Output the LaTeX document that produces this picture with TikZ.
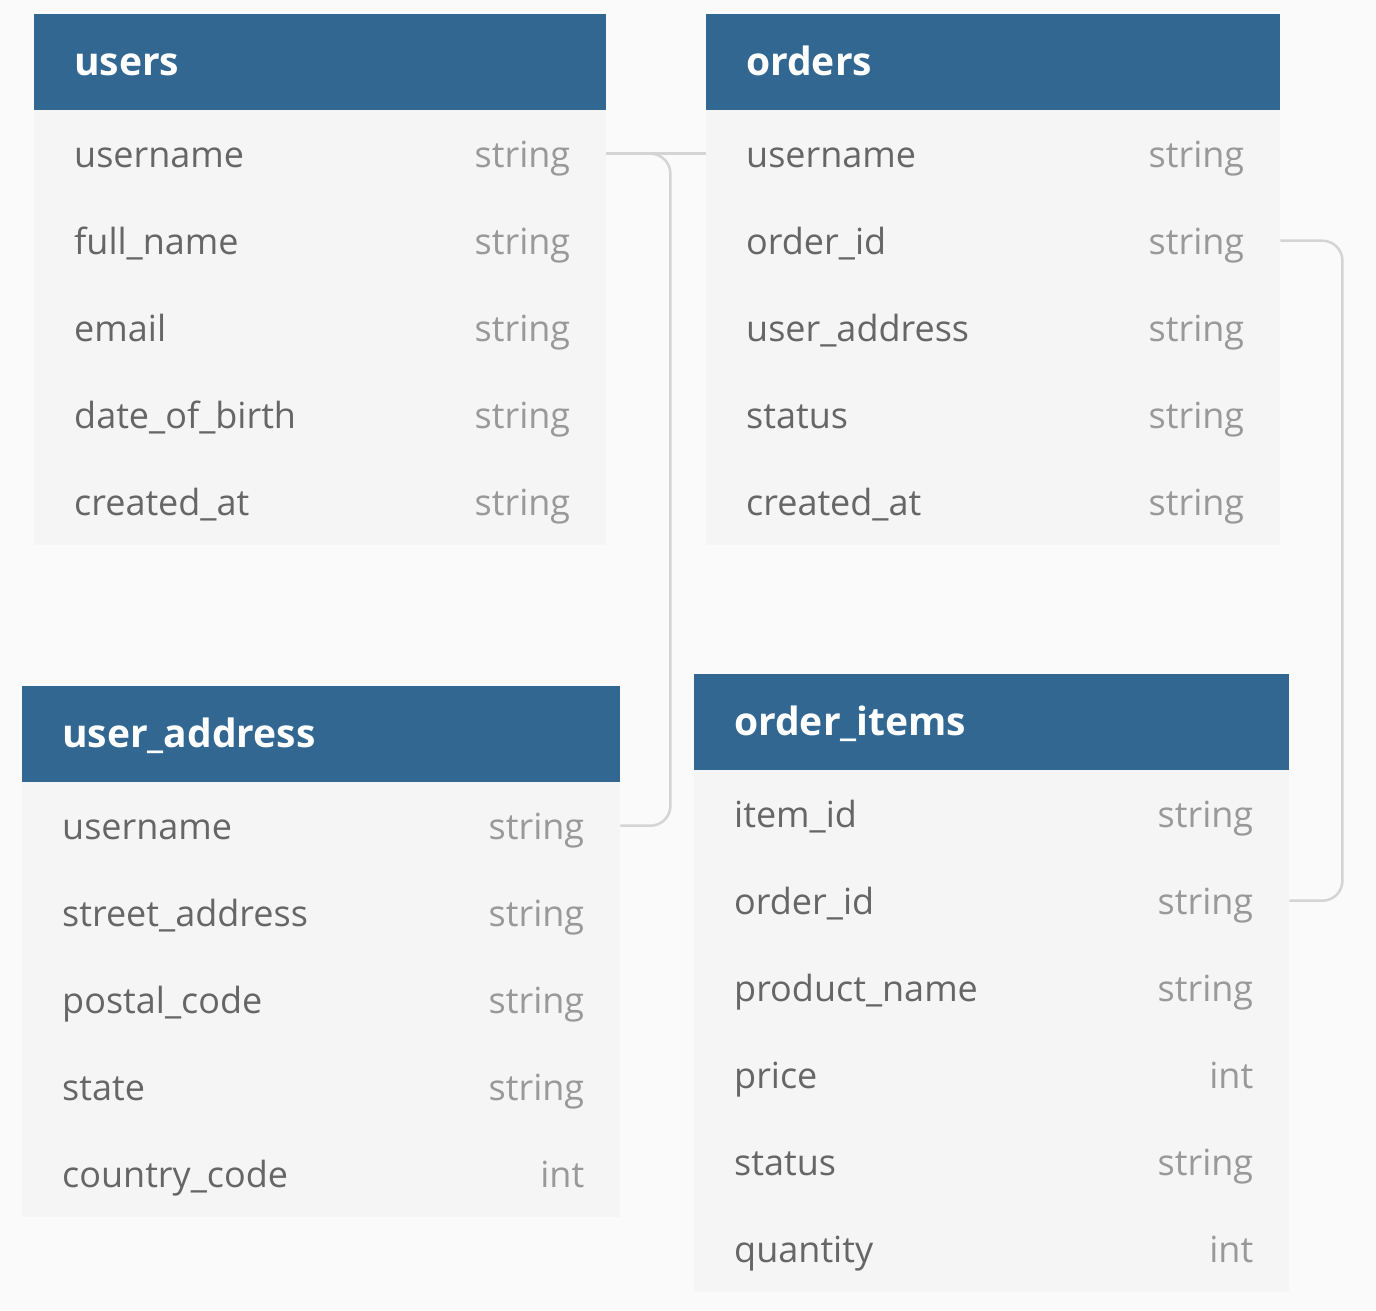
\documentclass[tikz,border=0pt]{standalone}
\usepackage{fontspec}
\setmainfont{Open Sans}
\definecolor{hdrblue}{RGB}{50,103,146}
\definecolor{bodybg}{RGB}{245,245,245}
\definecolor{pagebg}{RGB}{250,250,250}
\definecolor{fieldcol}{RGB}{102,102,102}
\definecolor{typecol}{RGB}{153,153,153}
\definecolor{linkcol}{RGB}{212,212,212}
\tikzset{
  hdr/.style={fill=hdrblue, draw=none, minimum height=96pt, inner sep=0pt},
  hdrtext/.style={text=white, font=\fontsize{39}{46}\selectfont\bfseries, inner sep=0pt},
  rowbox/.style={fill=bodybg, draw=none, minimum height=87pt, inner sep=0pt},
  fieldtext/.style={text=fieldcol, font=\fontsize{36}{43}\selectfont, inner sep=0pt},
  typetext/.style={text=typecol, font=\fontsize{36}{43}\selectfont, inner sep=0pt},
  link/.style={draw=linkcol, line width=2.5pt, rounded corners=20pt}
}
\newcommand{\mktable}[6]{%
  \node[hdr, minimum width=#4, anchor=north west] (#1) at (#2,#3) {};
  \node[hdrtext, anchor=mid west] (#1-title) at ([xshift=40pt,yshift=-11pt]#1.west) {#5};
  \foreach \f/\t [count=\i] in {#6} {
    \node[rowbox, minimum width=#4, anchor=north west] (#1-\i) at (#2,{#3+96+87*(\i-1)}) {};
    \node[fieldtext, anchor=mid west] (#1-\i-f) at ([xshift=40pt,yshift=-11.5pt]#1-\i.west) {\f};
    \node[typetext, anchor=mid east] (#1-\i-t) at ([xshift=-36pt,yshift=-11.5pt]#1-\i.east) {\t};
  }%
}
\begin{document}
\begin{tikzpicture}[x=1pt,y=-1pt]
\fill[pagebg] (0,0) rectangle (1376,1310);
\useasboundingbox (0,0) rectangle (1376,1310);
\mktable{users}{34}{14}{572pt}{users}{username/string,full\_name/string,email/string,date\_of\_birth/string,created\_at/string}
\mktable{orders}{706}{14}{574pt}{orders}{username/string,order\_id/string,user\_address/string,status/string,created\_at/string}
\mktable{ua}{22}{686}{598pt}{user\_address}{username/string,street\_address/string,postal\_code/string,state/string,country\_code/int}
\mktable{oi}{694}{674}{595pt}{order\_items}{item\_id/string,order\_id/string,product\_name/string,price/int,status/string,quantity/int}
\draw[link] (users-1.east) -- (orders-1.west);
\draw[link] (users-1.east) -- ++(64,0) |- (ua-1.east);
\draw[link] (orders-2.east) -- ++(62,0) |- (oi-2.east);
\end{tikzpicture}
\end{document}
